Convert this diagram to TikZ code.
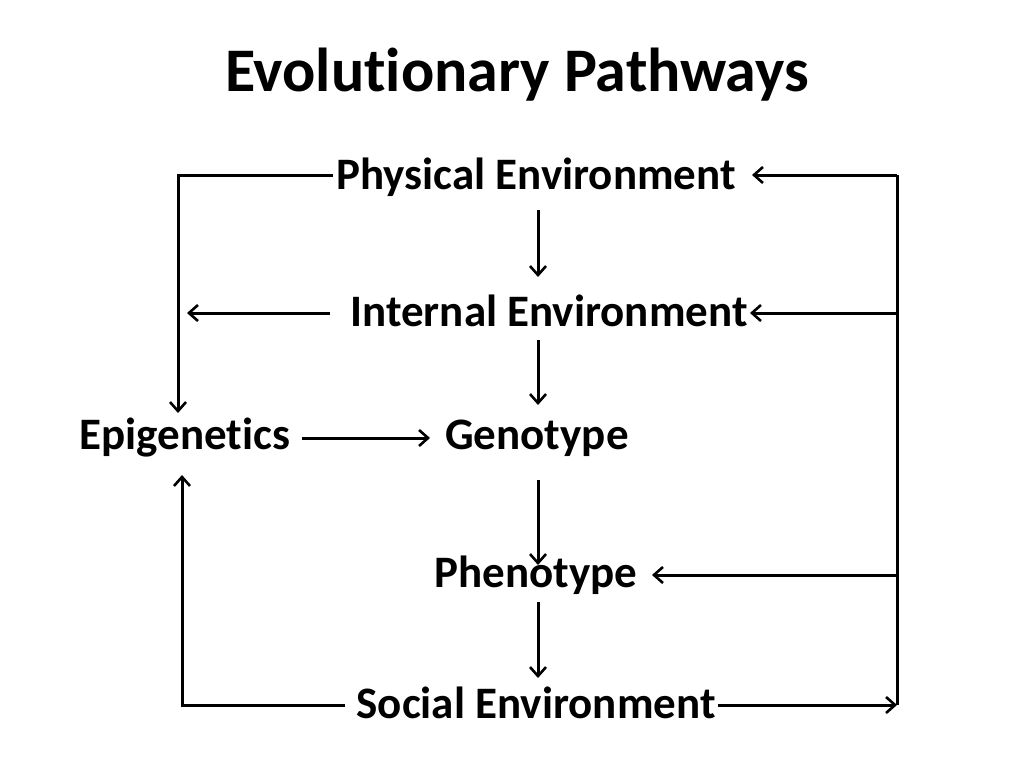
\documentclass[tikz,border=0pt]{standalone}
\usepackage{fontspec}
\setmainfont{Carlito}[Ligatures={NoCommon}]
\usetikzlibrary{arrows.meta}
\begin{document}
\begin{tikzpicture}[x=1pt,y=-1pt,
  lbl/.style={font=\bfseries\fontsize{45}{48}\selectfont,inner sep=0pt,anchor=center},
  conn/.style={line width=3pt,-{Straight Barb[length=9pt,width=16pt,line width=2.6pt]}},
  plain/.style={line width=3pt}]
\useasboundingbox (0,0) rectangle (1024,768);
\node[font=\bfseries\fontsize{62}{66}\selectfont] (title) at (517,75) {Evolutionary Pathways};
\node[lbl] (phys) at (536,177) {Physical Environment};
\node[lbl] (int) at (549,311) {Internal Environment};
\node[lbl] (epi) at (185,438) {Epigenetics};
\node[lbl] (geno) at (537,438) {Genotype};
\node[lbl] (pheno) at (536,575) {Phenotype};
\node[lbl] (soc) at (536,703) {Social Environment};
\coordinate (rt) at (897,175);
\coordinate (rb) at (897,705);
\coordinate (lt) at (178,175);
\coordinate (lb) at (182,705);
\coordinate (il) at (187,313);
\draw[plain] (rt) -- (rb);
\draw[conn] (333,175) -- (lt) -- (178,413);
\draw[conn] (538,210) -- (538,277);
\draw[conn] (rt) -- (752,175);
\draw[conn] (897,313) -- (750,313);
\draw[conn] (897,575) -- (652,575);
\draw[conn] (718,705) -- (rb);
\draw[conn] (330,313) -- (il);
\draw[conn] (538,340) -- (538,405);
\draw[conn] (302,438) -- (430,438);
\draw[conn] (538,480) -- (538,565);
\draw[conn] (538,602) -- (538,678);
\draw[conn] (345,705) -- (lb) -- (182,475);
\end{tikzpicture}
\end{document}
